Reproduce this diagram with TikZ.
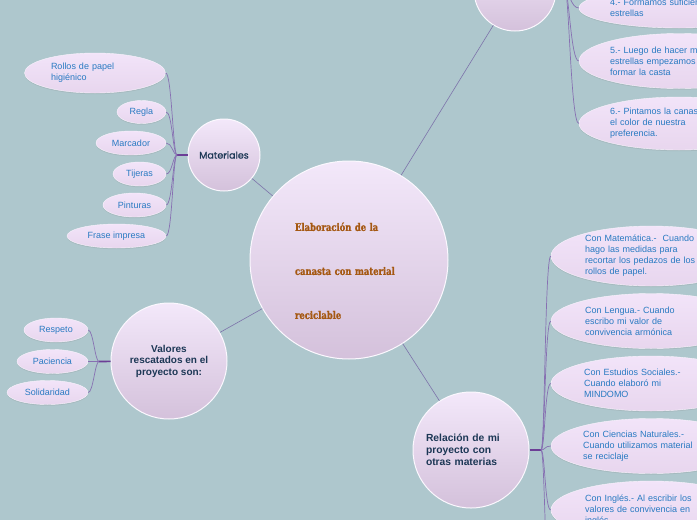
\documentclass[tikz,border=0pt]{standalone}
\usepackage{fontspec}
\setmainfont{Liberation Sans}
\newfontfamily\slabfont[FakeStretch=0.8, BoldFeatures={FakeBold=1.2}]{DejaVu Serif}
\newfontfamily\roundfont[FakeBold=0.8]{Poppins}
\usepackage{tikz}
\usetikzlibrary{shapes.geometric}
\usetikzlibrary{shadows}
\definecolor{bgblue}{RGB}{174,199,205}
\definecolor{linkcol}{RGB}{125,115,170}
\definecolor{stemcol}{RGB}{108,62,150}
\definecolor{branchcol}{RGB}{135,112,178}
\definecolor{circtop}{RGB}{243,232,250}
\definecolor{circbot}{RGB}{212,193,219}
\definecolor{leaftop}{RGB}{242,228,249}
\definecolor{leafbot}{RGB}{232,214,238}
\definecolor{leaftext}{RGB}{40,122,194}
\definecolor{navytext}{RGB}{28,55,85}
\definecolor{slabbrown}{RGB}{165,88,18}
\tikzset{ main_topic/.style = {circle, draw=white!70!circtop, line width=1pt, top color=circtop, bottom color=circbot, inner sep=0pt} }
\tikzset{ leaf_item/.style = {ellipse, draw=white!60!leaftop, line width=0.4pt, top color=leaftop, bottom color=leafbot, inner sep=0pt, text=leaftext, font=\fontsize{9}{11}\selectfont, align=left, drop shadow={shadow xshift=0pt, shadow yshift=-1.2pt, opacity=0.18}} }
\tikzset{ link/.style = {draw=linkcol, line width=0.6pt} }
\tikzset{ stem/.style = {draw=stemcol, line width=1.6pt} }
\tikzset{ branch/.style = {draw=branchcol, line width=0.7pt} }

\begin{document}
\begin{tikzpicture}[x=1pt,y=-1pt]
    \useasboundingbox (0,0) rectangle (697,520);
    \clip (0,0) rectangle (697,520);
    \fill[bgblue] (0,0) rectangle (697,520);

    \node[main_topic, minimum size=198pt, text=slabbrown, align=left, text width=108pt, font=\slabfont\bfseries\fontsize{10.5}{44}\selectfont] (canasta) at (349,260) {\rule{0pt}{30pt}Elaboración de la\\canasta con material\\reciclable};
    \node[main_topic, minimum size=72pt, text=navytext, font=\roundfont\fontsize{9.5}{11}\selectfont] (materiales) at (224,155) {Materiales};
    \node[main_topic, minimum size=116pt, text=navytext, align=center, font=\bfseries\fontsize{10}{11.5}\selectfont] (valores) at (169,361) {Valores\\rescatados en el\\proyecto son:};
    \node[main_topic, minimum size=116pt, text=navytext, align=left, text width=90pt, font=\bfseries\fontsize{10.3}{12}\selectfont] (relacion) at (471,450) {Relación de mi\\proyecto con\\otras materias};
    \node[main_topic, minimum size=82pt] (pasos) at (515,-10) {};

    \draw[link] (canasta) -- (materiales);
    \draw[link] (canasta) -- (valores);
    \draw[link] (canasta) -- (relacion);
    \draw[link] (canasta) -- (pasos);

    \node[leaf_item, minimum width=141pt, minimum height=40pt, text width=88pt] (rollos) at (95,73) {Rollos de papel\\higiénico};
    \node[leaf_item, minimum width=49pt, minimum height=23pt] (regla) at (141.5,112) {Regla};
    \node[leaf_item, minimum width=70pt, minimum height=24pt] (marcador) at (131,143) {Marcador};
    \node[leaf_item, minimum width=53pt, minimum height=24pt] (tijeras) at (139.5,174) {Tijeras};
    \node[leaf_item, minimum width=63pt, minimum height=24pt] (pinturas) at (134.5,205) {Pinturas};
    \node[leaf_item, minimum width=99pt, minimum height=24pt] (frase) at (116.5,236) {Frase impresa};
    \coordinate (j_mat) at (177,155);
    \draw[stem] (materiales) -- (j_mat);
    \draw[branch] (j_mat) .. controls +(-4,0) and +(6,0) .. (rollos.east);
    \draw[branch] (j_mat) .. controls +(-4,0) and +(6,0) .. (regla.east);
    \draw[branch] (j_mat) .. controls +(-4,0) and +(6,0) .. (marcador.east);
    \draw[branch] (j_mat) .. controls +(-4,0) and +(6,0) .. (tijeras.east);
    \draw[branch] (j_mat) .. controls +(-4,0) and +(6,0) .. (pinturas.east);
    \draw[branch] (j_mat) .. controls +(-4,0) and +(6,0) .. (frase.east);

    \node[leaf_item, minimum width=64pt, minimum height=24pt] (respeto) at (56,330) {Respeto};
    \node[leaf_item, minimum width=71pt, minimum height=24pt] (paciencia) at (52.5,361.5) {Paciencia};
    \node[leaf_item, minimum width=81pt, minimum height=24pt] (solidaridad) at (47.5,392.5) {Solidaridad};
    \coordinate (j_val) at (99,361.5);
    \draw[stem] (valores) -- (j_val);
    \draw[branch] (j_val) .. controls +(-4,0) and +(5,0) .. (respeto.east);
    \draw[branch] (j_val) .. controls +(-4,0) and +(5,0) .. (paciencia.east);
    \draw[branch] (j_val) .. controls +(-4,0) and +(5,0) .. (solidaridad.east);

    \node[leaf_item, minimum width=200pt, minimum height=60pt, text width=132pt] (matematica) at (651,256) {Con Matemática.-\ \ Cuando\\hago las medidas para\\recortar los pedazos de los\\rollos de papel.};
    \node[leaf_item, minimum width=200pt, minimum height=55pt, text width=132pt] (lengua) at (651,321) {Con Lengua.- Cuando\\escribo mi valor de\\convivencia armónica};
    \node[leaf_item, minimum width=200pt, minimum height=55pt, text width=134pt] (sociales) at (651,383.5) {Con Estudios Sociales.-\\Cuando elaboró mi\\MINDOMO};
    \node[leaf_item, minimum width=200pt, minimum height=55pt, text width=136pt] (ciencias) at (651,446) {Con Ciencias Naturales.-\\Cuando utilizamos material\\se reciclaje};
    \node[leaf_item, minimum width=200pt, minimum height=58pt, text width=132pt] (ingles) at (651,510) {Con Inglés.- Al escribir los\\valores de convivencia en\\inglés};
    \coordinate (j_rel) at (541,450);
    \coordinate (j_low) at (551,600);
    \draw[stem] (relacion) -- (j_rel);
    \draw[branch] (j_rel) .. controls +(4,0) and +(-6,0) .. (matematica.west);
    \draw[branch] (j_rel) .. controls +(4,0) and +(-6,0) .. (lengua.west);
    \draw[branch] (j_rel) .. controls +(4,0) and +(-6,0) .. (sociales.west);
    \draw[branch] (j_rel) .. controls +(4,0) and +(-6,0) .. (ciencias.west);
    \draw[branch] (j_rel) .. controls +(4,0) and +(-6,0) .. (ingles.west);
    \draw[branch] (j_rel) .. controls +(4,0) and +(-6,0) .. (j_low);

    \node[leaf_item, minimum width=200pt, minimum height=40pt, text width=138pt] (paso_cuatro) at (679,8) {4.- Formamos suficientes\\estrellas};
    \node[leaf_item, minimum width=200pt, minimum height=55pt, text width=138pt] (paso_cinco) at (679,61) {5.- Luego de hacer muchas\\estrellas empezamos a\\formar la casta};
    \node[leaf_item, minimum width=200pt, minimum height=53pt, text width=138pt] (paso_seis) at (679,123.5) {6.- Pintamos la canasta con\\el color de nuestra\\preferencia.};
    \coordinate (j_top) at (565,-10);
    \draw[stem] (pasos) -- (j_top);
    \draw[branch] (j_top) .. controls +(4,0) and +(-8,0) .. (paso_cuatro.west);
    \draw[branch] (j_top) .. controls +(4,0) and +(-8,0) .. (paso_cinco.west);
    \draw[branch] (j_top) .. controls +(4,0) and +(-8,0) .. (paso_seis.west);
\end{tikzpicture}
\end{document}
